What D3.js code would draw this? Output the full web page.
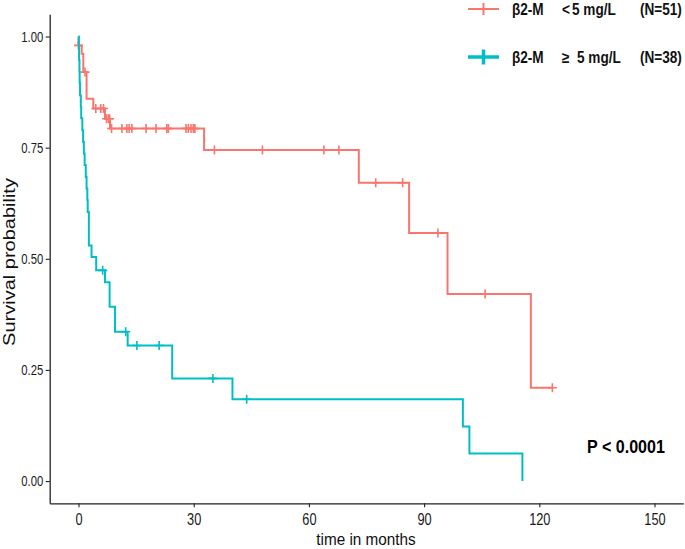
<!DOCTYPE html>
<html>
<head>
<meta charset="utf-8">
<script src="https://cdn.jsdelivr.net/npm/d3@7"></script>
<style>
body { margin: 0; background: #fff; }
text { font-family: "Liberation Sans", Arial, sans-serif; }
</style>
</head>
<body>
<div id="chart"></div>
<script>
// Kaplan-Meier steps (time in months, survival after drop)
var lowTimes  = [0, 0.83, 1.25, 2.1, 3.85, 6.9, 8.2, 32.7, 73.0, 86.1, 96.1, 117.8];
var lowSurv   = [0.980, 0.961, 0.920, 0.860, 0.838, 0.815, 0.793, 0.745, 0.671, 0.558, 0.421, 0.210];
var lowCensor = [0.0, 1.7, 4.5, 5.8, 6.5, 7.3, 7.8, 8.1, 8.6, 11.3, 12.6, 13.2, 13.9, 17.6, 20.2,
                 23.0, 23.4, 28.0, 28.6, 29.3, 29.9, 30.3, 35.4, 47.9, 63.9, 67.8, 77.4, 84.4,
                 93.6, 105.9, 123.4];
var lowEnd = 123.4;

var highTimes  = [0.1, 0.15, 0.25, 0.3, 0.4, 0.6, 0.7, 1.0, 1.2, 1.4, 1.6, 1.9, 2.1, 2.3, 2.4,
                  2.7, 3.4, 4.6, 6.9, 8.1, 9.5, 12.8, 24.4, 40.1, 100.1, 101.8, 115.6];
var highSurv   = [0.974, 0.947, 0.921, 0.895, 0.868, 0.842, 0.816, 0.789, 0.763, 0.737, 0.711,
                  0.684, 0.658, 0.632, 0.605, 0.530, 0.504, 0.474, 0.447, 0.392, 0.336, 0.305,
                  0.231, 0.184, 0.123, 0.062, 0.0];
var highCensor = [6.3, 12.3, 15.2, 21.0, 35.0, 43.8];
var highEnd = 115.6;

var xTicks = [0, 30, 60, 90, 120, 150];
var yTicks = [0, 0.25, 0.5, 0.75, 1];
var legendLabels = [["β2-M", "<", "5 mg/L", "(N=51)"], ["β2-M", "≥", "5 mg/L", "(N=38)"]];
var colors = ["#F8766D", "#00BFC4"];

var width = 685, height = 549;
var svg = d3.select("#chart").append("svg")
    .attr("width", width).attr("height", height);

var x = d3.scaleLinear().domain([-7.5, 157.5]).range([49.7, 683.3]);
var y = d3.scaleLinear().domain([-0.05, 1.05]).range([503.3, 14.3]);

function stepPoints(times, surv, end) {
    var pts = [[0, 1]];
    times.forEach(function(t, i) { pts.push([t, surv[i]]); });
    pts.push([end, surv[surv.length - 1]]);
    return pts;
}
function survAt(times, surv, t) {
    var s = 1;
    times.forEach(function(tt, i) { if (tt <= t) s = surv[i]; });
    return s;
}

var line = d3.line()
    .x(function(d) { return x(d[0]); })
    .y(function(d) { return y(d[1]); })
    .curve(d3.curveStepAfter);

// axes
var xAxis = svg.append("g")
    .attr("transform", "translate(0," + y.range()[0] + ")")
    .call(d3.axisBottom(x).tickValues(xTicks).tickSize(4).tickSizeOuter(0).tickPadding(6));
xAxis.selectAll("text")
    .attr("transform", "scale(0.8,1)")
    .style("font-size", "16px").style("fill", "#1a1a1a");

var yAxis = svg.append("g")
    .attr("transform", "translate(" + x.range()[0] + ",0)")
    .call(d3.axisLeft(y).tickValues(yTicks).tickFormat(d3.format(".2f")).tickSize(4).tickSizeOuter(0));
yAxis.selectAll("text")
    .attr("x", -8.2)
    .attr("transform", "scale(0.78,1)")
    .style("font-size", "14.5px").style("fill", "#1a1a1a");
svg.selectAll(".domain").attr("stroke", "#222").attr("stroke-width", 1.3);
svg.selectAll(".tick line").attr("stroke", "#222").attr("stroke-width", 1.1);

svg.append("text")
    .attr("transform", "translate(366,545) scale(0.9,1)")
    .attr("text-anchor", "middle")
    .style("font-size", "17px").style("fill", "#111")
    .text("time in months");

svg.append("text")
    .attr("transform", "translate(15,262) rotate(-90) scale(1,0.8)")
    .attr("text-anchor", "middle")
    .style("font-size", "20px").style("fill", "#111")
    .text("Survival probability");

// curves
var groups = [
    {times: lowTimes, surv: lowSurv, censor: lowCensor, end: lowEnd, color: colors[0]},
    {times: highTimes, surv: highSurv, censor: highCensor, end: highEnd, color: colors[1]}
];

groups.forEach(function(g) {
    svg.append("path")
        .datum(stepPoints(g.times, g.surv, g.end))
        .attr("d", line)
        .attr("fill", "none")
        .attr("stroke", g.color)
        .attr("stroke-width", 2);

    svg.append("g").selectAll("path")
        .data(g.censor)
        .enter().append("path")
        .attr("d", function(t) {
            var cx = x(t), cy = y(survAt(g.times, g.surv, t));
            return "M" + (cx - 4.5) + "," + cy + "H" + (cx + 4.5) +
                   "M" + cx + "," + (cy - 4.5) + "V" + (cy + 4.5);
        })
        .attr("stroke", g.color)
        .attr("stroke-width", 1.6)
        .attr("fill", "none");
});

// legend
var legY = [9, 57], legW = [2, 3.5], plusH = [6, 7.5];
var pieceX = [[512, 562, 572, 640], [512, 562, 577, 640]];
legendLabels.forEach(function(lab, i) {
    var lg = svg.append("g");
    lg.append("line")
        .attr("x1", 468).attr("x2", 499).attr("y1", legY[i]).attr("y2", legY[i])
        .attr("stroke", colors[i]).attr("stroke-width", legW[i]);
    lg.append("line")
        .attr("x1", 483.5).attr("x2", 483.5)
        .attr("y1", legY[i] - plusH[i]).attr("y2", legY[i] + plusH[i])
        .attr("stroke", colors[i]).attr("stroke-width", legW[i]);
    lab.forEach(function(t, j) {
        lg.append("text")
            .attr("transform", "translate(" + pieceX[i][j] + "," + (legY[i] + 6) + ") scale(0.85,1)")
            .style("font-size", "16px").style("font-weight", "bold").style("fill", "#111")
            .text(t);
    });
});

svg.append("text")
    .attr("transform", "translate(587,453) scale(0.92,1)")
    .style("font-size", "17.5px").style("font-weight", "bold").style("fill", "#000")
    .text("P < 0.0001");
</script>
</body>
</html>
